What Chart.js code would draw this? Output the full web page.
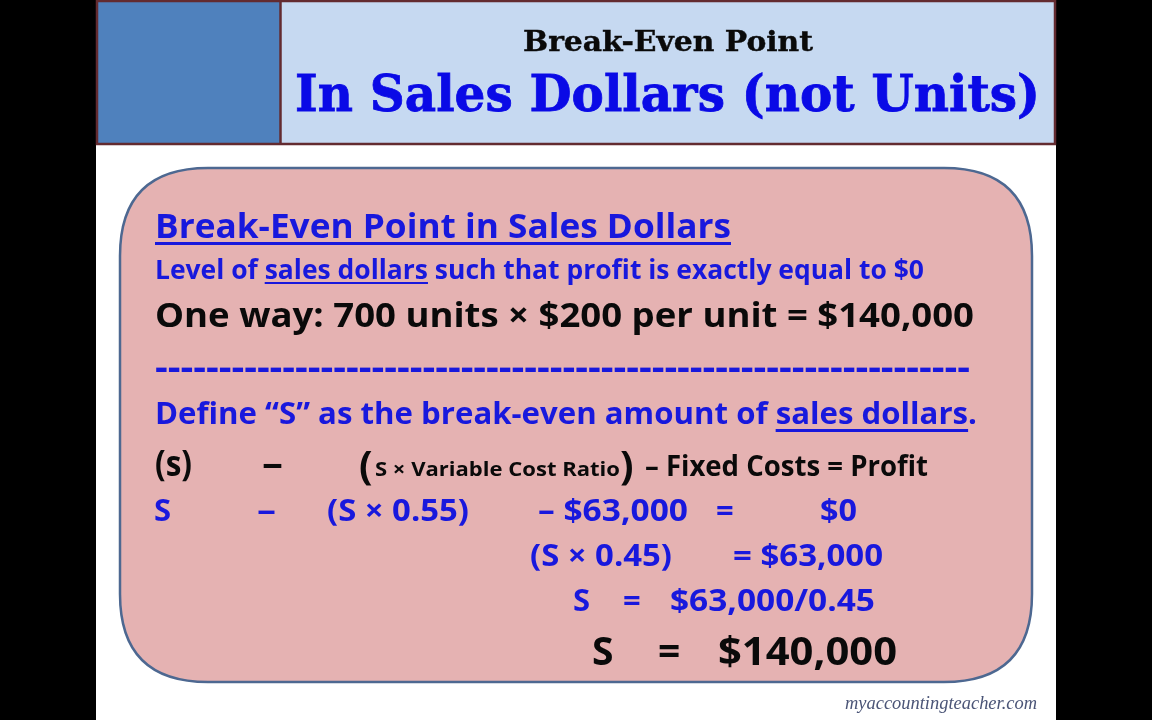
<!DOCTYPE html>
<html><head><meta charset="utf-8">
<script src="https://cdn.jsdelivr.net/npm/chart.js@4.4.1/dist/chart.umd.min.js"></script>
<style>
html,body{margin:0;padding:0;width:1152px;height:720px;overflow:hidden;background:#000}
#wrap{position:relative;width:1152px;height:720px}
#c{position:absolute;left:0;top:0;width:1152px;height:720px}
#txt{position:absolute;left:0;top:0;width:1152px;height:720px}
.t{position:absolute;white-space:nowrap;transform-origin:0 0;font-family:'Open Sans','Noto Sans',sans-serif;font-weight:700;line-height:1.2}
.t u{text-decoration-skip-ink:none}
</style></head>
<body><div id="wrap"><canvas id="c" width="1152" height="720"></canvas><div id="txt"></div></div>
<script>
// ---- values shown on the slide ----
const units = [700];
const pricePerUnit = [200];
const variableCostRatio = [0.55];
const contributionRatio = [0.45];
const fixedCosts = [63000];
const breakEvenSales = [140000];
// ---- text labels ----
const titleLines = ["Break-Even Point", "In Sales Dollars (not Units)"];
const headingText = ["Break-Even Point in Sales Dollars"];
const watermark = ["myaccountingteacher.com"];

const money = v => '$' + v.toLocaleString('en-US');

// ---- slide background drawn by a Chart.js plugin ----
const slidePlugin = {
  id: 'slide',
  beforeDraw(chart) {
    const ctx = chart.ctx;
    ctx.save();
    ctx.fillStyle = '#000'; ctx.fillRect(0, 0, 1152, 720);
    ctx.fillStyle = '#fff'; ctx.fillRect(96, 0, 960, 720);
    // header
    ctx.fillStyle = '#c6d9f1'; ctx.fillRect(96, 0, 960, 145);
    ctx.fillStyle = '#4f81bd'; ctx.fillRect(96, 0, 184, 145);
    ctx.strokeStyle = '#632b30'; ctx.lineWidth = 2.5;
    ctx.strokeRect(97, 1, 958, 143);
    ctx.beginPath(); ctx.moveTo(280.5, 0); ctx.lineTo(280.5, 145); ctx.stroke();
    // rounded panel
    const x = 120, y = 168, w = 912, h = 514, r = 88;
    ctx.beginPath();
    ctx.moveTo(x + r, y);
    ctx.lineTo(x + w - r, y);
    ctx.quadraticCurveTo(x + w, y, x + w, y + r);
    ctx.lineTo(x + w, y + h - r);
    ctx.quadraticCurveTo(x + w, y + h, x + w - r, y + h);
    ctx.lineTo(x + r, y + h);
    ctx.quadraticCurveTo(x, y + h, x, y + h - r);
    ctx.lineTo(x, y + r);
    ctx.quadraticCurveTo(x, y, x + r, y);
    ctx.closePath();
    ctx.fillStyle = '#e5b2b2'; ctx.fill();
    ctx.strokeStyle = '#4d6891'; ctx.lineWidth = 2.5; ctx.stroke();
    ctx.restore();
  }
};

new Chart(document.getElementById('c'), {
  type: 'scatter',
  data: { datasets: [{ data: [] }] },
  options: {
    responsive: false, animation: false, devicePixelRatio: 1,
    plugins: { legend: { display: false }, tooltip: { enabled: false } },
    scales: { x: { display: false }, y: { display: false } }
  },
  plugins: [slidePlugin]
});

// ---- text overlay ----
const BLUE = '#1818dd', BLACK = '#0a0a0a';
const SERIF = "'DejaVu Serif','Liberation Serif',serif";
const segs = [
  { h: titleLines[0], x: 523, b: 51, w: 290, s: 27, c: BLACK, f: SERIF, k: 0.4 },
  { h: titleLines[1], x: 295, b: 111, w: 745, s: 51, c: '#0a0ae6', f: SERIF, k: 0.8 },
  { h: '<u style="text-decoration-thickness:2.5px;text-underline-offset:4px">' + headingText[0] + '</u>', x: 155, b: 238, w: 576, s: 34, c: BLUE },
  { h: 'Level of <u style="text-decoration-thickness:2px;text-underline-offset:3px">sales dollars</u> such that profit is exactly equal to ' + money(0), x: 155, b: 279, w: 769, s: 26, c: BLUE },
  { h: 'One way: ' + units[0] + ' units × ' + money(pricePerUnit[0]) + ' per unit = ' + money(breakEvenSales[0]), x: 155, b: 327, w: 819, s: 34, c: BLACK },
  { h: '-'.repeat(64), x: 155, b: 379, w: 815, s: 36, c: BLUE },
  { h: 'Define “S” as the break-even amount of <u style="text-decoration-thickness:3px;text-underline-offset:5px">sales dollars</u>.', x: 155, b: 424, w: 822, s: 30, c: BLUE },
  { h: '(s)', x: 155, b: 476, w: 37, s: 36, c: BLACK },
  { h: '–', x: 262, b: 476, w: 21, s: 36, c: BLACK },
  { h: '(', x: 359, b: 479, s: 40, c: BLACK },
  { h: 'S × Variable Cost Ratio', x: 375, b: 476, w: 245, s: 20, c: BLACK },
  { h: ')', x: 620, b: 479, s: 40, c: BLACK },
  { h: '– Fixed Costs = Profit', x: 645, b: 476, w: 283, s: 28, c: BLACK },
  { h: 'S', x: 154, b: 521, s: 31, c: BLUE },
  { h: '–', x: 257, b: 521, w: 19, s: 31, c: BLUE },
  { h: '(S × ' + variableCostRatio[0].toFixed(2) + ')', x: 327, b: 521, w: 142, s: 31, c: BLUE },
  { h: '– ' + money(fixedCosts[0]), x: 538, b: 521, w: 150, s: 31, c: BLUE },
  { h: '=', x: 716, b: 521, s: 31, c: BLUE },
  { h: money(0), x: 820, b: 521, w: 37, s: 31, c: BLUE },
  { h: '(S × ' + contributionRatio[0].toFixed(2) + ')', x: 530, b: 566, w: 142, s: 31, c: BLUE },
  { h: '= ' + money(fixedCosts[0]), x: 733, b: 566, w: 150, s: 31, c: BLUE },
  { h: 'S', x: 573, b: 611, s: 31, c: BLUE },
  { h: '=', x: 623, b: 611, s: 31, c: BLUE },
  { h: money(fixedCosts[0]) + '/' + contributionRatio[0].toFixed(2), x: 670, b: 611, w: 205, s: 31, c: BLUE },
  { h: 'S', x: 592, b: 665, s: 39, c: BLACK },
  { h: '=', x: 658, b: 665, s: 39, c: BLACK },
  { h: money(breakEvenSales[0]), x: 718, b: 665, w: 179, s: 39, c: BLACK },
  { h: watermark[0], x: 845, b: 709, w: 192, s: 18, c: '#4b5577', f: "'Liberation Serif','DejaVu Serif',serif", st: 'italic', wt: 400 }
];

function layout() {
  const box = document.getElementById('txt');
  box.innerHTML = '';
  segs.forEach(s => {
    const d = document.createElement('div');
    d.className = 't';
    d.style.left = s.x + 'px';
    d.style.fontSize = s.s + 'px';
    d.style.color = s.c;
    if (s.f) d.style.fontFamily = s.f;
    if (s.st) d.style.fontStyle = s.st;
    if (s.wt) d.style.fontWeight = s.wt;
    if (s.k) d.style.webkitTextStroke = s.k + 'px ' + s.c;
    d.innerHTML = s.h + '<i class="m" style="display:inline-block;width:0;height:0"></i>';
    box.appendChild(d);
    const m = d.querySelector('.m');
    const baseOff = m.offsetTop;
    const natW = d.getBoundingClientRect().width;
    d.style.top = (s.b - baseOff) + 'px';
    if (s.w) d.style.transform = 'scaleX(' + (s.w / natW) + ')';
  });
}
layout();
if (document.fonts && document.fonts.ready) document.fonts.ready.then(layout);
</script>
</body></html>
